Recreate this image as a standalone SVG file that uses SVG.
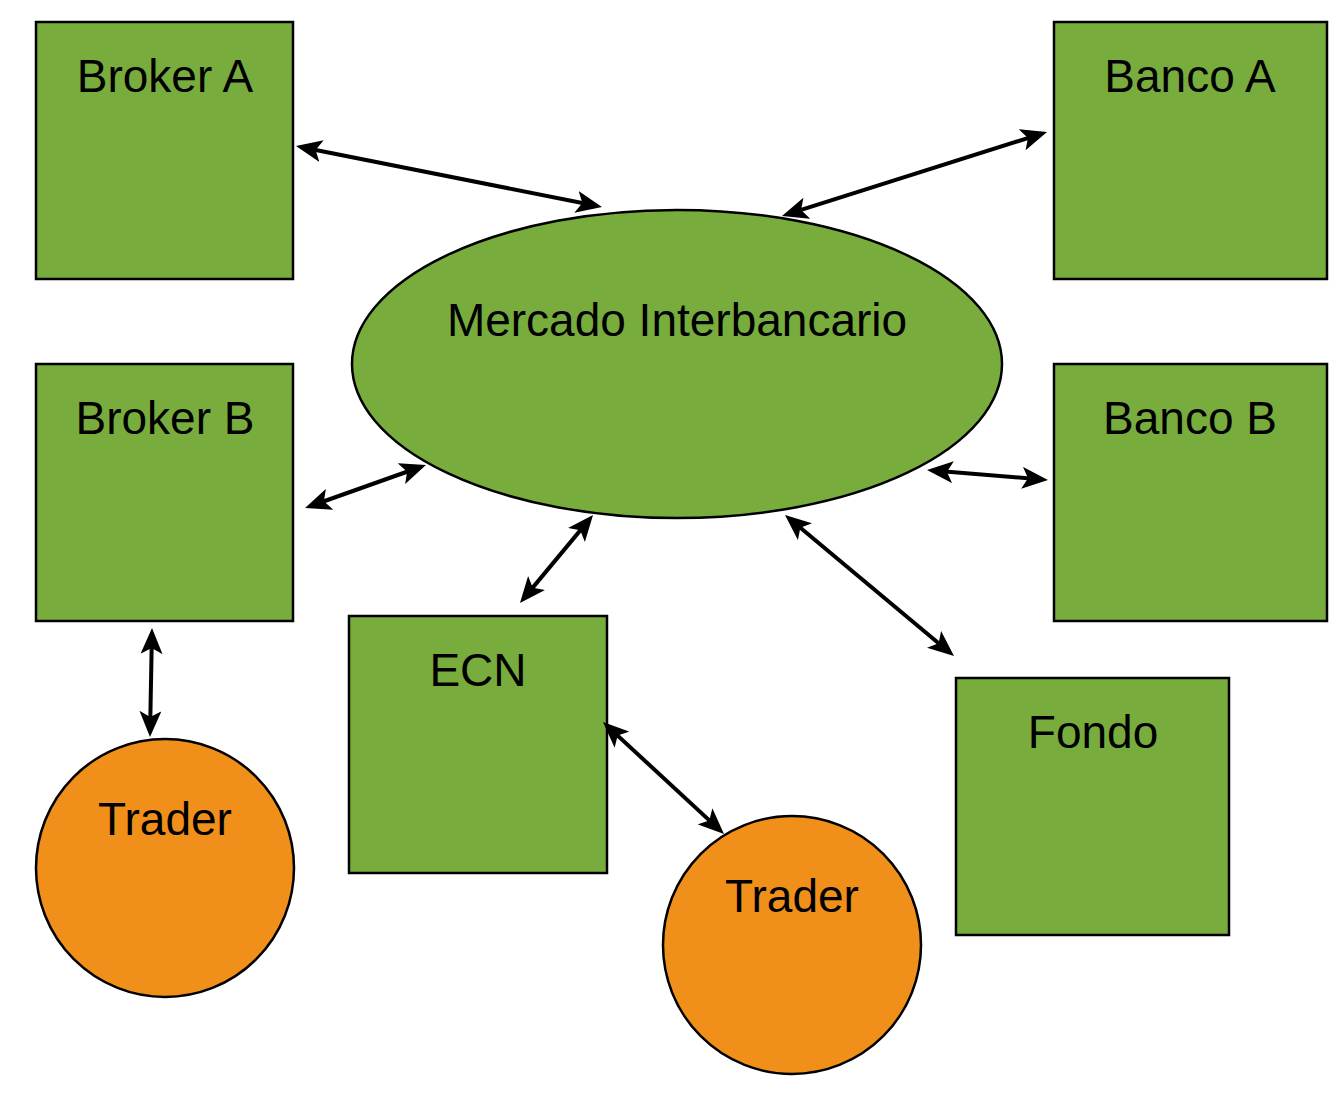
<svg xmlns="http://www.w3.org/2000/svg" width="1342" height="1100" viewBox="0 0 1342 1100">
<style>
.box{fill:#78AD3E;stroke:#000;stroke-width:2.5}
.trader{fill:#F0901A;stroke:#000;stroke-width:2.5}
.lbl{font-family:"Liberation Sans",Arial,Helvetica,sans-serif;font-size:46px;fill:#000;text-anchor:middle}
.conn{stroke:#000;stroke-width:4;fill:none;marker-start:url(#ah);marker-end:url(#ah)}
</style>
<defs>
<marker id="ah" viewBox="0 0 26 22" refX="20" refY="11" markerWidth="26" markerHeight="22" markerUnits="userSpaceOnUse" orient="auto-start-reverse">
<path d="M0,0 L26,11 L0,22 L6,11 z" fill="#000"/>
</marker>
</defs>
<rect width="1342" height="1100" fill="#fff"/>
<g id="mercado"><ellipse class="box" cx="677" cy="364" rx="325" ry="154"/><text class="lbl" x="677" y="336">Mercado Interbancario</text></g>
<g id="brokerA"><rect class="box" x="36" y="22" width="257" height="257"/><text class="lbl" x="165" y="92">Broker A</text></g>
<g id="bancoA"><rect class="box" x="1054" y="22" width="273" height="257"/><text class="lbl" x="1190" y="92">Banco A</text></g>
<g id="brokerB"><rect class="box" x="36" y="364" width="257" height="257"/><text class="lbl" x="165" y="434">Broker B</text></g>
<g id="bancoB"><rect class="box" x="1054" y="364" width="273" height="257"/><text class="lbl" x="1190" y="434">Banco B</text></g>
<g id="ecn"><rect class="box" x="349" y="616" width="258" height="257"/><text class="lbl" x="478" y="686">ECN</text></g>
<g id="fondo"><rect class="box" x="956" y="678" width="273" height="257"/><text class="lbl" x="1093" y="748">Fondo</text></g>
<g id="trader1"><circle class="trader" cx="165" cy="868" r="129"/><text class="lbl" x="165" y="835">Trader</text></g>
<g id="trader2"><circle class="trader" cx="792" cy="945" r="129"/><text class="lbl" x="792" y="912">Trader</text></g>
<g id="connectors">
<line class="conn" x1="301.9" y1="147.2" x2="596.1" y2="205.8"/>
<line class="conn" x1="1041.3" y1="133.8" x2="787.7" y2="214.2"/>
<line class="conn" x1="310.7" y1="506.0" x2="420.3" y2="467.0"/>
<line class="conn" x1="933.0" y1="470.5" x2="1042.0" y2="479.5"/>
<line class="conn" x1="523.8" y1="598.4" x2="589.2" y2="519.6"/>
<line class="conn" x1="789.6" y1="518.8" x2="949.4" y2="652.2"/>
<line class="conn" x1="151.9" y1="634" x2="150.1" y2="731"/>
<line class="conn" x1="607.4" y1="726.1" x2="719.6" y2="829.9"/>
</g>
</svg>
